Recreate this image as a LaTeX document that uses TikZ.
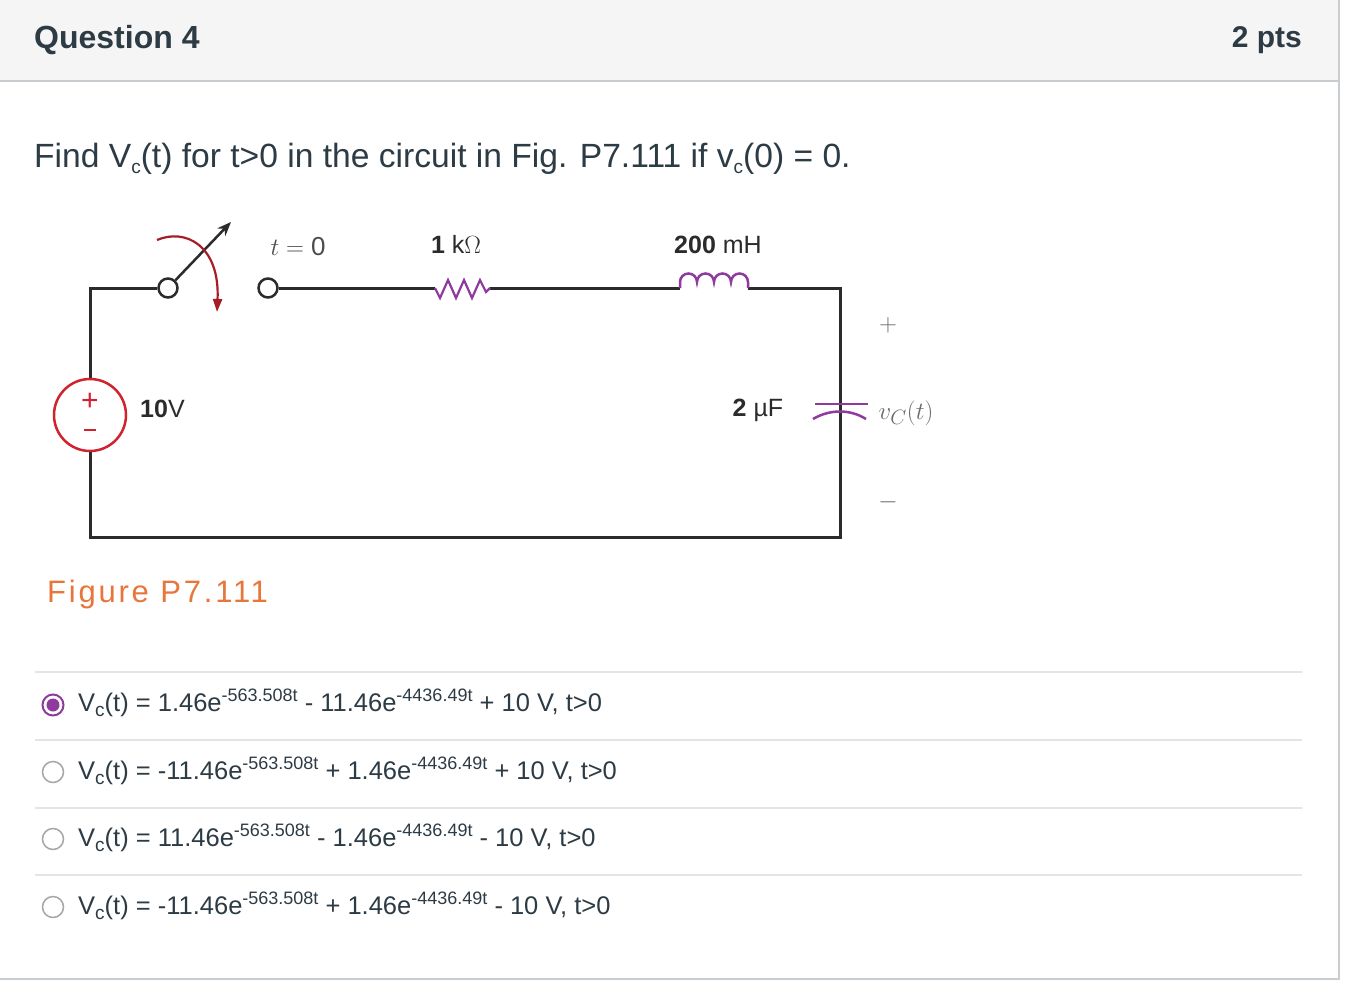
\documentclass[tikz,border=0pt]{standalone}
\usepackage{fontspec}
\setmainfont{Liberation Sans}
\usetikzlibrary{arrows.meta}
\definecolor{hdr}{HTML}{F5F5F5}
\definecolor{lineg}{HTML}{C7CDD1}
\definecolor{sep}{HTML}{E2E4E6}
\definecolor{txt}{HTML}{2D3B45}
\definecolor{purp}{HTML}{8E3A9E}
\definecolor{srcred}{HTML}{D0232E}
\definecolor{figor}{HTML}{E8753A}
\definecolor{wire}{HTML}{2B2B2B}
\newcommand{\sx}[1]{\raisebox{0.75ex}{\fontsize{18}{18}\selectfont #1}}
\newcommand{\sbb}[1]{\raisebox{-0.35ex}{\fontsize{19}{19}\selectfont #1}}
\tikzset{
 w/.style={draw=wire,line width=3pt},
 ans/.style={anchor=west,text=txt,font=\fontsize{25.5}{28}\selectfont,inner sep=0},
 radio/.style={circle,draw=gray!70,line width=1.5pt,minimum size=21pt,inner sep=0},
 term/.style={circle,draw=wire,line width=2.5pt,fill=white,minimum size=19pt,inner sep=0},
 lab/.style={text=wire,inner sep=0,font=\fontsize{25}{26}\selectfont},
}
\begin{document}
\begin{tikzpicture}[x=1pt,y=-1pt]
\useasboundingbox (0,0) rectangle (1348,980);
\fill[white] (0,0) rectangle (1348,980);
% header
\fill[hdr] (0,0) rectangle (1339,81);
\draw[lineg,line width=1.5pt] (0,81) -- (1339,81);
\draw[lineg,line width=1.5pt] (1339,0) -- (1339,980);
\draw[lineg,line width=1.5pt] (0,979) -- (1339,979);
\node[anchor=west,text=txt,font=\bfseries\fontsize{32}{34}\selectfont,inner sep=0] (title) at (34,40) {Question 4};
\node[anchor=east,text=txt,font=\bfseries\fontsize{30}{32}\selectfont,inner sep=0] (pts) at (1302,40) {2 pts};
\node[anchor=west,text=txt,font=\fontsize{33.6}{35}\selectfont,inner sep=0] (q) at (34,159) {Find V\sbb{c}(t) for t>0 in the circuit in Fig. P7.111 if v\sbb{c}(0) = 0.};
% circuit
\coordinate (tl) at (90,288); \coordinate (bl) at (90,537);
\coordinate (tr) at (840,288); \coordinate (br) at (840,537);
\node[circle,draw=srcred,line width=2.5pt,minimum size=72pt,inner sep=0,fill=white] (src) at (90,415) {};
\node[text=srcred,font=\fontsize{30}{30}\selectfont] at (90,402) {+};
\draw[srcred,line width=2pt] (84,430) -- (96,430);
\node[term] (s1) at (168,288) {};
\node[term] (s2) at (268,288) {};
\draw[w] (src.north) -- (tl) -- (s1.west);
\draw[w] (src.south) -- (bl) -- (br) -- (tr) -- (748,288);
\draw[w] (s2.east) -- (435,288);
\draw[w] (490,288) -- (680,288);
% resistor
\draw[purp,line width=2.2pt] (435,288) -- (440,298) -- (448,280) -- (456,298) -- (464,280) -- (472,298) -- (480,280) -- (486,292) -- (490,288);
% inductor
\draw[purp,line width=2.5pt] (680,288) -- (680,282) arc[start angle=180,end angle=360,radius=8.5] arc[start angle=180,end angle=360,radius=8.5] arc[start angle=180,end angle=360,radius=8.5] arc[start angle=180,end angle=360,radius=8.5] -- (748,288);
% capacitor
\draw[purp,line width=2.5pt] (815,404) -- (868,404);
\draw[purp,line width=2.5pt] (813,419) .. controls (830,409) and (850,409) .. (866,419);
% switch
\draw[wire,line width=2.5pt,-{Stealth[length=14pt,width=11pt]}] (s1) -- (231,222);
\draw[srcred!80!black,line width=2.2pt,-{Triangle[length=13pt,width=9pt]}] (157,240) .. controls (185,228) and (220,245) .. (217,312);
% labels
\node[text=gray!60!black,inner sep=0,font=\fontsize{26}{26}\selectfont] (tlab) at (298,247) {$t = \mathrm{0}$};
\node[lab] (rlab) at (456,244) {\textbf{1} k$\Omega$};
\node[lab] (llab) at (718,245) {\textbf{200} mH};
\node[lab] (clab) at (758,410) {\textbf{2} µF};
\node[lab,anchor=west] (vlab) at (140,409) {\textbf{10}V};
\node[text=wire!70,inner sep=0,font=\fontsize{31}{31}\selectfont] (vc) at (906,413) {$v_C(t)$};
\node[text=wire!70,inner sep=0,font=\fontsize{28}{28}\selectfont] (plus) at (888,325) {$+$};
\node[text=wire!70,inner sep=0,font=\fontsize{28}{28}\selectfont] (minus) at (888,502) {$-$};
\node[anchor=west,text=figor,inner sep=0,font=\addfontfeatures{LetterSpace=9}\fontsize{31}{33}\selectfont] (fig) at (47,594) {Figure P7.111};
% answers
\foreach \y in {672,740,808,875} \draw[sep,line width=1.2pt] (35,\y) -- (1302,\y);
\node[circle,draw=purp,line width=2pt,minimum size=21pt,inner sep=0] (r1) at (53,705) {};
\fill[purp] (r1) circle (6.5pt);
\node[radio] (r2) at (53,772) {};
\node[radio] (r3) at (53,839) {};
\node[radio] (r4) at (53,907) {};
\node[ans] (a1) at (78,703) {V\sbb{c}(t) = 1.46e\sx{-563.508t} - 11.46e\sx{-4436.49t} + 10 V, t>0};
\node[ans] (a2) at (78,771) {V\sbb{c}(t) = -11.46e\sx{-563.508t} + 1.46e\sx{-4436.49t} + 10 V, t>0};
\node[ans] (a3) at (78,838) {V\sbb{c}(t) = 11.46e\sx{-563.508t} - 1.46e\sx{-4436.49t} - 10 V, t>0};
\node[ans] (a4) at (78,906) {V\sbb{c}(t) = -11.46e\sx{-563.508t} + 1.46e\sx{-4436.49t} - 10 V, t>0};
\end{tikzpicture}
\end{document}
